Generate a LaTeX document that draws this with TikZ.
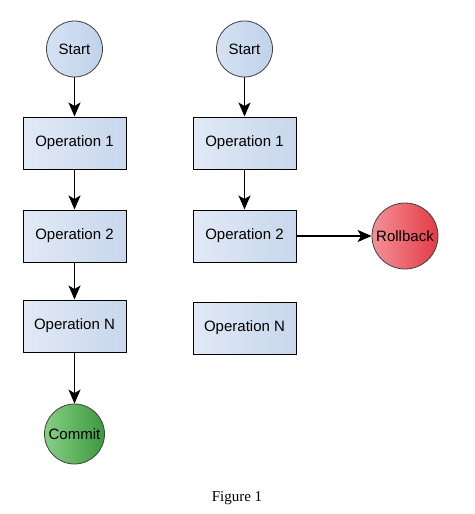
\documentclass[tikz,border=0pt]{standalone}
\usepackage{fontspec}
\setmainfont{Liberation Sans}
\newfontfamily\capfont{Liberation Serif}
\usetikzlibrary{arrows.meta}
\definecolor{opblueA}{HTML}{E1E9F6}
\definecolor{opblueB}{HTML}{C8D7EC}
\definecolor{endblueA}{HTML}{D6E2F3}
\definecolor{endblueB}{HTML}{C0D2EA}
\definecolor{backredA}{HTML}{F49197}
\definecolor{backredB}{HTML}{E33B45}
\definecolor{comgreenA}{HTML}{86D086}
\definecolor{comgreenB}{HTML}{3D983D}

\tikzset{
  opbox/.style={draw=black, line width=1pt, left color=opblueA, right color=opblueB,
    minimum width=103pt, minimum height=52pt, font=\fontsize{15}{17}\selectfont},
  endnode/.style={circle, draw=black!75, line width=0.8pt, inner sep=0pt,
    font=\fontsize{15}{17}\selectfont},
  startnode/.style={endnode, left color=endblueA, right color=endblueB, minimum size=56pt},
  commitnode/.style={endnode, left color=comgreenA, right color=comgreenB, minimum size=60pt},
  backnode/.style={endnode, left color=backredA, right color=backredB, minimum size=66pt},
  flow/.style={line width=1.4pt, -{Stealth[length=14pt,width=12pt,inset=3.5pt]}}
}

\begin{document}
\begin{tikzpicture}[x=1pt,y=-1pt]
\useasboundingbox (0,0) rectangle (474,514);
\def\xa{74.5}
\def\xb{244.5}
% left column: all operations succeed
\node[startnode] (startA) at (\xa,49) {Start};
\node[opbox] (opA1) at (\xa,143) {Operation 1};
\node[opbox] (opA2) at (\xa,236) {Operation 2};
\node[opbox] (opAN) at (\xa,326) {Operation N};
\node[commitnode] (commit) at (\xa,434) {Commit};
% right column: operation 2 fails
\node[startnode] (startB) at (\xb,49) {Start};
\node[opbox] (opB1) at (\xb,143) {Operation 1};
\node[opbox] (opB2) at (\xb,236) {Operation 2};
\node[opbox] (opBN) at (\xb,328) {Operation N};
\node[backnode] (rollback) at (405,236) {Rollback};
\foreach \a/\b in {startA/opA1, opA1/opA2, opA2/opAN, opAN/commit, startB/opB1, opB1/opB2}{
\draw[flow] (\a) -- (\b);}
\draw[flow] (opB2) -- (rollback);
\node[font=\capfont\fontsize{15}{17}\selectfont] (caption) at (237,498) {Figure 1};
\end{tikzpicture}
\end{document}
